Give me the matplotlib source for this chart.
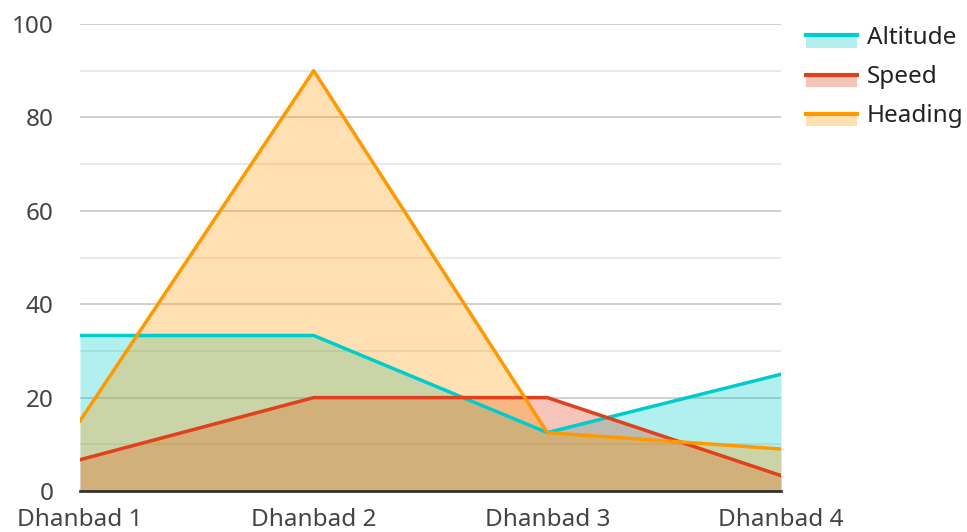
import numpy as np
import matplotlib.pyplot as plt
from matplotlib.legend_handler import HandlerBase
from matplotlib.patches import Rectangle
from matplotlib.lines import Line2D

plt.rcParams['font.family'] = ['Noto Sans', 'DejaVu Sans']

categories = ['Dhanbad 1', 'Dhanbad 2', 'Dhanbad 3', 'Dhanbad 4']
altitude = [33.3, 33.3, 12.5, 25]
speed = [6.7, 20, 20, 3.3]
heading = [15, 90, 12.5, 9]

series = [
  ('Altitude', altitude, '#00cccc', '#00cccc'),
  ('Speed', speed, '#e0401c', '#e0401c'),
  ('Heading', heading, '#ff9900', '#ff9900'),
]

class LineOnPatch(HandlerBase):
  def create_artists(self, legend, orig, xd, yd, w, h, fontsize, trans):
    color = orig.get_color()
    r = Rectangle((xd, yd - 0.25 * h), w, h * 0.8, facecolor=color, alpha=0.3,
                  edgecolor='none', transform=trans)
    l = Line2D([xd, xd + w], [yd + 0.5 * h, yd + 0.5 * h], color=color, lw=3,
               transform=trans)
    return [r, l]

fig = plt.figure(figsize=(9.67, 5.32), dpi=100)
ax = fig.add_axes([80 / 967, 41 / 532, 701 / 967, 467 / 532])

x = np.arange(len(categories))
handles = []
for name, vals, lc, fc in series:
  ax.fill_between(x, 0, vals, color=fc, alpha=0.3, lw=0)
  ln, = ax.plot(x, vals, color=lc, lw=2.5, label=name)
  handles.append(ln)

ax.set_xlim(0, 3)
ax.set_ylim(0, 100)
ax.set_yticks(np.arange(0, 101, 20))
ax.set_yticks(np.arange(10, 100, 20), minor=True)
ax.set_xticks(x)
ax.set_xticklabels(categories)
ax.grid(axis='y', which='major', color='#c8c8c8', lw=1.2)
ax.grid(axis='y', which='minor', color='#e6e6e6', lw=1.2)
ax.set_axisbelow(True)
for s in ['top', 'right', 'left']:
  ax.spines[s].set_visible(False)
ax.spines['bottom'].set_color('#333333')
ax.spines['bottom'].set_linewidth(2)
ax.tick_params(axis='both', which='both', length=0, labelsize=17.5, labelcolor='#444444')
ax.tick_params(axis='y', pad=19)
ax.tick_params(axis='x', pad=12)

fig.legend(handles=handles, labels=[s[0] for s in series],
           handler_map={Line2D: LineOnPatch()},
           loc='upper left', bbox_to_anchor=(806 / 967, 1 - 26 / 532),
           frameon=False, fontsize=17.5, labelcolor='#222222',
           handlelength=2.1, handletextpad=0.4, labelspacing=0.62,
           borderaxespad=0, borderpad=0)

fig.savefig('out.png', dpi=100)
